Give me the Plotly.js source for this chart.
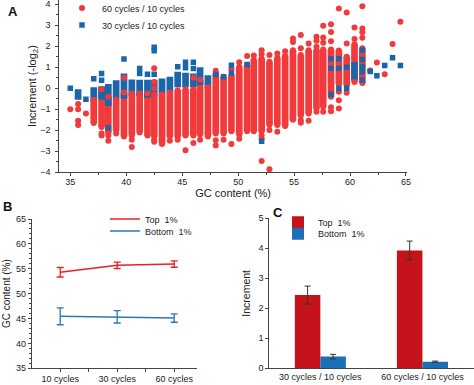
<!DOCTYPE html>
<html><head><meta charset="utf-8">
<script src="https://cdn.plot.ly/plotly-3.0.1.min.js"></script>
<style>html,body{margin:0;padding:0;background:#fff}#chart{width:474px;height:385px}</style>
</head><body><div id="chart"></div>
<script>
// ---------- Panel A data ----------
const gcCols = [35.0,35.7,36.4,37.1,37.8,38.4,39.1,39.8,40.5,41.2,41.9,42.5,43.2,43.9,44.6,45.3,46.0,46.6,47.3,48.0,48.7,49.4,50.1,50.8,51.4,52.1,52.8,53.5,54.2,54.9,55.6,56.3,57.0,57.6,58.3,59.0,59.7,60.4,61.1,61.8,62.4,63.1,63.8,64.5];
// dense column extent of "60 cycles / 10 cycles" points
const red60Lo = [null,null,null,-1.65,-1.85,-2.1,-2.0,-2.3,-2.25,-2.1,-2.25,-2.3,-2.6,-2.3,-2.3,-2.25,-2.25,-2.2,-2.3,-2.15,-2.15,-2.05,-2.2,-2.05,-2.05,-2.05,-1.75,-1.75,-1.8,-1.5,-1.3,-1.2,-0.96,-0.88,-0.4,0.2,0.15,0.3,0.25,null,null,null,null,null];
const red60Hi = [null,null,null,-0.55,-0.05,-0.4,-0.55,-0.2,-0.25,-0.25,-0.25,-0.3,-0.3,-0.2,-0.1,-0.05,-0.05,0.4,0.05,0.7,0.55,0.62,1.02,1.1,1.34,1.42,1.26,1.45,1.55,1.81,1.58,1.81,1.81,1.84,1.85,1.8,1.5,2.1,1.9,null,null,null,null,null];
// dense column extent of "30 cycles / 10 cycles" points
const blue30Lo = [null,-0.55,null,-0.6,-0.55,-0.85,-0.55,-0.5,-0.35,-0.35,-0.45,-0.35,-0.3,-0.2,0.05,0.05,0.05,0.15,0.0,null,null,null,null,null,null,null,null,null,null,null,null,null,null,null,null,null,null,0.4,null,null,null,null,null,null];
const blue30Hi = [null,-0.05,null,0.05,0.1,0.2,0.38,0.7,0.42,0.4,0.4,0.4,0.47,0.55,0.78,0.74,0.7,1.0,0.62,null,null,null,null,null,null,null,null,null,null,null,null,null,null,null,null,null,null,1.25,null,null,null,null,null,null];
// isolated points
const red60PtX = [35.0,35.7,35.7,35.7,35.7,36.4,37.8,37.8,38.4,38.4,39.1,39.8,40.5,40.5,42.5,42.5,42.5,42.5,42.5,43.2,43.9,44.6,45.3,46.0,46.0,46.6,48.0,48.0,48.0,48.7,49.4,49.4,50.1,50.1,50.8,51.4,52.1,52.1,52.1,52.1,52.1,52.8,52.8,52.8,53.5,53.5,54.2,54.9,54.9,55.6,55.6,55.6,55.6,56.3,56.3,57.0,57.0,57.0,57.0,57.6,57.6,57.6,57.6,58.3,58.3,58.3,58.3,58.3,59.0,59.0,59.0,59.0,59.7,59.7,59.7,60.4,60.4,61.1,61.1,61.1,61.1,61.8,62.4,63.1,63.8,64.5];
const red60PtY = [-1.0,-0.75,-1.0,-1.55,-1.75,-1.2,-2.15,-2.25,-2.5,-2.25,-2.15,0.5,-2.45,-2.8,0.95,0.3,0.0,-2.45,-2.55,-2.65,-2.5,-2.45,-2.95,0.5,-2.6,-2.45,0.83,-2.47,-2.72,-2.45,0.9,-2.65,1.24,-2.4,1.53,1.56,1.81,1.62,-2.25,-2.4,-3.46,1.58,-1.99,-3.86,1.65,-2.07,1.76,2.37,2.2,2.53,1.9,-1.52,-1.64,2.13,-1.55,2.45,2.26,1.97,-1.12,2.97,2.41,2.16,-1.12,3.05,2.68,2.24,-0.9,-1.1,3.8,-0.17,-0.57,-0.96,3.6,2.13,-0.22,2.89,2.34,3.9,2.84,2.67,2.4,0.85,1.23,0.67,2.11,3.16];
const blue30PtX = [35.0,36.4,37.1,37.8,37.8,38.4,39.8,41.2,41.2,41.9,42.5,42.5,42.5,44.6,45.3,45.3,46.0,46.0,48.0,48.7,49.4,49.4,50.8,52.1,58.3,58.3,58.3,59.0,59.0,59.0,59.7,59.7,61.1,61.1,61.1,61.1,61.1,61.8,62.4,63.1,63.8,64.5];
const blue30PtY = [0.0,-0.52,0.45,0.7,0.38,-1.88,1.39,0.94,0.7,0.67,1.95,1.78,0.67,1.02,1.24,0.97,1.24,0.94,0.65,0.55,1.1,0.72,1.13,-2.52,1.4,0.95,-0.3,1.4,0.95,0.0,1.0,0.0,1.82,1.37,1.02,0.78,0.39,0.8,0.59,1.08,1.45,1.08];
const seriesA = ['60 cycles / 10 cycles','30 cycles / 10 cycles'];

// ---------- Panel B data ----------
const cyclesB = ['10 cycles','30 cycles','60 cycles'];
const gcTop = [54.3,55.7,55.95];
const gcTopErr = [0.95,0.65,0.65];
const gcBottom = [45.45,45.35,45.1];
const gcBottomErr = [1.7,1.25,0.85];
const seriesBC = ['Top  1%','Bottom  1%'];

// ---------- Panel C data ----------
const ratiosC = ['30 cycles / 10 cycles','60 cycles / 10 cycles'];
const incTop = [2.44,3.93];
const incTopErr = [0.3,0.31];
const incBottom = [0.39,0.22];
const incBottomErr = [0.075,0.02];

// ---------- colours ----------
const cRedA = '#f03a3c', cBlueA = '#1b66a8';
const cRedB = '#e8202a', cBlueB = '#2a78b6';
const cRedC = '#c6121b', cBlueC = '#1c6fb2';

function colBars(lo, hi) {
  const x = [], base = [], len = [];
  gcCols.forEach((g, i) => { if (lo[i] !== null) { x.push(g); base.push(lo[i]); len.push(hi[i] - lo[i]); } });
  return {x, base, len};
}
function colEnds(lo, hi) {
  const x = [], y = [];
  gcCols.forEach((g, i) => { if (lo[i] !== null) { x.push(g, g); y.push(lo[i], hi[i]); } });
  return {x, y};
}
const rb = colBars(red60Lo, red60Hi), bb = colBars(blue30Lo, blue30Hi), re = colEnds(red60Lo, red60Hi);
const colW = 0.6;

const traces = [
  {type:'bar', x: rb.x, base: rb.base, y: rb.len, width: colW, offset: -colW/2, marker:{color:cRedA, line:{width:0}},
   xaxis:'x', yaxis:'y', showlegend:false, hoverinfo:'skip'},
  {type:'bar', x: bb.x, base: bb.base, y: bb.len, width: colW, offset: -colW/2, marker:{color:cBlueA, line:{width:0}},
   xaxis:'x', yaxis:'y', showlegend:false, hoverinfo:'skip'},
  {type:'scatter', mode:'markers', x: re.x, y: re.y, marker:{color:cRedA, size:6, symbol:'circle'},
   xaxis:'x', yaxis:'y', showlegend:false, hoverinfo:'skip'},
  {type:'scatter', mode:'markers', name: seriesA[0], x: red60PtX, y: red60PtY, marker:{color:cRedA, size:6, symbol:'circle'},
   xaxis:'x', yaxis:'y', legend:'legend'},
  {type:'scatter', mode:'markers', name: seriesA[1], x: blue30PtX, y: blue30PtY, marker:{color:cBlueA, size:5.5, symbol:'square'},
   xaxis:'x', yaxis:'y', legend:'legend2'},
  // Panel B
  {type:'scatter', mode:'lines', name: seriesBC[0], x: cyclesB.map((c,i)=>i), y: gcTop, line:{color:cRedB, width:1.5},
   error_y:{type:'data', array: gcTopErr, color:cRedB, thickness:1.3, width:3.5}, xaxis:'x2', yaxis:'y2', legend:'legend3'},
  {type:'scatter', mode:'lines', name: seriesBC[1], x: cyclesB.map((c,i)=>i), y: gcBottom, line:{color:cBlueB, width:1.5},
   error_y:{type:'data', array: gcBottomErr, color:cBlueB, thickness:1.3, width:3.5}, xaxis:'x2', yaxis:'y2', legend:'legend4'},
  // Panel C
  {type:'bar', name: seriesBC[0], x: ratiosC, y: incTop, marker:{color:cRedC},
   error_y:{type:'data', array: incTopErr, color:'#333', thickness:1, width:3}, xaxis:'x3', yaxis:'y3', legend:'legend5'},
  {type:'bar', name: seriesBC[1], x: ratiosC, y: incBottom, marker:{color:cBlueC},
   error_y:{type:'data', array: incBottomErr, color:'#333', thickness:1, width:3}, xaxis:'x3', yaxis:'y3', legend:'legend6'}
];

const W = 474, H = 385;
const px = v => v / W, py = v => 1 - v / H;
const tickFont = {family:'Liberation Sans, Arial, sans-serif', size:9, color:'#222'};
const axBase = {showgrid:false, zeroline:false, showline:true, linecolor:'#444', linewidth:1, ticks:'outside',
  ticklen:3, tickwidth:1, tickcolor:'#444', tickfont:tickFont, automargin:false, ticklabeloverflow:'allow'};
const legBase = {font:{family:'Liberation Sans, Arial, sans-serif', size:9, color:'#222'}, bgcolor:'rgba(0,0,0,0)',
  borderwidth:0, xanchor:'left', yanchor:'middle', tracegroupgap:0};

const layout = {
  width: W, height: H, margin:{l:0, r:0, t:0, b:0, autoexpand:false}, paper_bgcolor:'#fff', plot_bgcolor:'#fff',
  font:{family:'Liberation Sans, Arial, sans-serif', color:'#222'},
  barmode:'group', bargap:0.5, bargroupgap:0,
  xaxis: Object.assign({}, axBase, {domain:[px(59.3), px(407)], range:[34.02, 65.09], dtick:5, tick0:35,
    ticklabelstandoff:-2,
    minor:{dtick:2.5, ticklen:2, ticks:'outside', tickcolor:'#444'},
    title:{text:'GC content (%)', font:{size:11}, standoff:0}, anchor:'y'}),
  yaxis: Object.assign({}, axBase, {domain:[py(172.3), 1], range:[-4, 4.2], dtick:1, tick0:0,
    ticklabelstandoff:3,
    minor:{dtick:0.5, ticklen:2, ticks:'outside', tickcolor:'#444'},
    title:{text:'Increment (-log<sub>2</sub>)', font:{size:11}, standoff:1}, anchor:'x'}),
  xaxis2: Object.assign({}, axBase, {domain:[px(31.7), px(197)], range:[-0.5, 2.4],
    tickmode:'array', tickvals: cyclesB.map((c,i)=>i), ticktext: cyclesB, ticklabelstandoff:-1,
    minor:{tickmode:'array', tickvals:[0.5,1.5], ticklen:3, ticks:'outside', tickcolor:'#444'}, anchor:'y2'}),
  yaxis2: Object.assign({}, axBase, {domain:[py(368.3), py(219)], range:[35, 65], dtick:5,
    minor:{dtick:1, ticklen:2, ticks:'outside', tickcolor:'#444'},
    title:{text:'GC content (%)', font:{size:10}, standoff:3}, anchor:'x2'}),
  xaxis3: Object.assign({}, axBase, {domain:[px(269.3), px(473.5)], range:[-0.5, 1.5], ticks:'', ticklabelstandoff:0, anchor:'y3'}),
  yaxis3: Object.assign({}, axBase, {domain:[py(368.3), py(218.3)], range:[0, 5], dtick:1,
    title:{text:'Increment', font:{size:10.5}, standoff:5}, anchor:'x3'}),
  legend:  Object.assign({}, legBase, {x:px(62), y:py(8)}),
  legend2: Object.assign({}, legBase, {x:px(62), y:py(25)}),
  legend3: Object.assign({}, legBase, {x:px(105), y:py(219)}),
  legend4: Object.assign({}, legBase, {x:px(105), y:py(231)}),
  legend5: Object.assign({}, legBase, {x:px(278), y:py(222.3)}),
  legend6: Object.assign({}, legBase, {x:px(278), y:py(233.7)}),
  annotations: [
    {text:'<b>A</b>', x:px(13), y:py(11), xref:'paper', yref:'paper', xanchor:'center', yanchor:'middle', showarrow:false, font:{size:13, color:'#111'}},
    {text:'<b>B</b>', x:px(8), y:py(207), xref:'paper', yref:'paper', xanchor:'center', yanchor:'middle', showarrow:false, font:{size:13, color:'#111'}},
    {text:'<b>C</b>', x:px(278), y:py(213), xref:'paper', yref:'paper', xanchor:'center', yanchor:'middle', showarrow:false, font:{size:13, color:'#111'}}
  ]
};

Plotly.newPlot('chart', traces, layout, {staticPlot:true, displayModeBar:false});
</script>
</body></html>
